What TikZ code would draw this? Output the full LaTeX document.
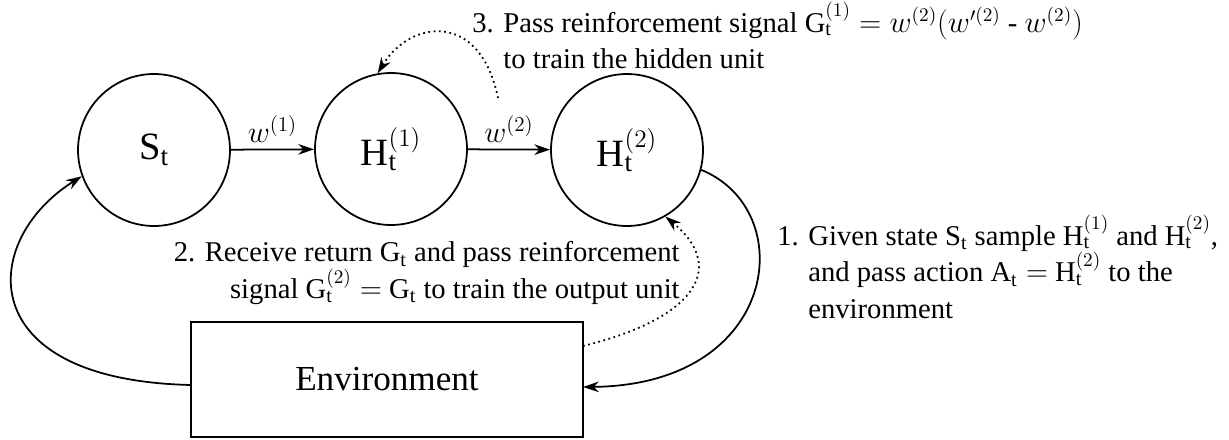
\documentclass[tikz,border=0pt]{standalone}
\usepackage{fontspec}
\setmainfont{Liberation Serif}
\usetikzlibrary{arrows.meta}
\begin{document}
\begin{tikzpicture}[x=0.02cm,y=-0.02cm,
  unit/.style={circle,draw,line width=1pt,minimum size=3.04cm,inner sep=0pt,font=\fontsize{22}{26}\selectfont},
  arr/.style={-{Stealth[length=9pt,width=6pt]},line width=1pt},
  dot/.style={-{Stealth[length=9pt,width=6pt]},line width=1pt,dotted},
  lab/.style={font=\fontsize{16.3}{21}\selectfont,align=left,inner sep=0pt}]
\useasboundingbox (0,0) rectangle (1229,439);
\node[unit] (S) at (154,150) {S$_{\mathrm{t}}$};
\node[unit] (H1) at (391,149) {H$^{(1)}_{\mathrm{t}}$};
\node[unit] (H2) at (627,150) {H$^{(2)}_{\mathrm{t}}$};
\node[draw,line width=1pt,minimum width=7.84cm,minimum height=2.3cm,font=\fontsize{20}{24}\selectfont] (E) at (387,379.5) {Environment};
\coordinate (EL) at (191,385);
\coordinate (ER1) at (583,387);
\coordinate (ER2) at (583,346);
\coordinate (D1) at (498,98);
\draw[arr] (S) -- node[above,font=\fontsize{18}{22}\selectfont]{$w^{(1)}$} (H1);
\draw[arr] (H1) -- node[above,font=\fontsize{18}{22}\selectfont]{$w^{(2)}$} (H2);
\draw[arr] (EL) .. controls (-30,380) and (-20,240) .. (S.200);
\draw[arr] (H2.-15) .. controls (800,210) and (780,385) .. (ER1);
\draw[dot] (D1) .. controls (480,10) and (410,20) .. (H1.100);
\draw[dot] (ER2) .. controls (690,320) and (730,270) .. (H2.-60);
\node[lab,anchor=north west] at (472,2) {3. Pass reinforcement signal G$^{(1)}_{\mathrm{t}}=w^{(2)}(w'^{(2)}$ - $w^{(2)})$\\ \phantom{3. }to train the hidden unit};
\node[lab,anchor=north east,align=right] at (680,241) {2. Receive return G$_{\mathrm{t}}$ and pass reinforcement\\ signal G$^{(2)}_{\mathrm{t}}=$ G$_{\mathrm{t}}$ to train the output unit};
\node[lab,anchor=north west] at (777,215) {1. Given state S$_{\mathrm{t}}$ sample H$^{(1)}_{\mathrm{t}}$ and H$^{(2)}_{\mathrm{t}}$,\\ \phantom{1. }and pass action A$_{\mathrm{t}}=$ H$^{(2)}_{\mathrm{t}}$ to the\\ \phantom{1. }environment};
\end{tikzpicture}
\end{document}
